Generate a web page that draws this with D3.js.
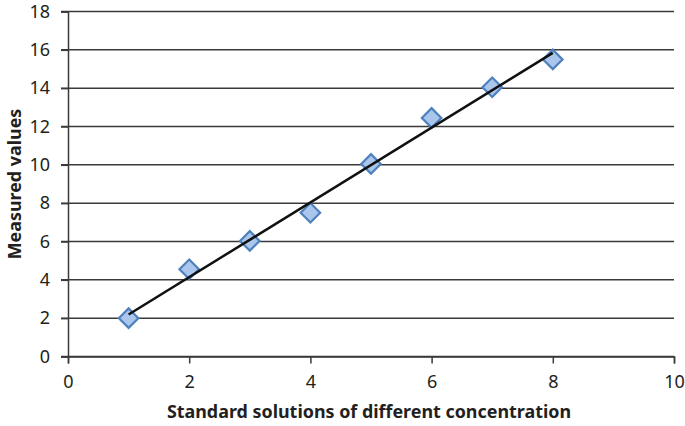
<!DOCTYPE html>
<html>
<head>
<meta charset="utf-8">
<script src="https://cdn.jsdelivr.net/npm/d3@7"></script>
<style>
  html, body { margin: 0; padding: 0; background: #fff; }
  svg { display: block; }
  text { font-family: "Noto Sans", "Open Sans", sans-serif; fill: #231f20; }
</style>
</head>
<body>
<svg id="chart" width="685" height="426"></svg>
<script>
// Data
const concentrations = [1, 2, 3, 4, 5, 6, 7, 8];
const measured = [2.0, 4.55, 6.03, 7.5, 10.05, 12.45, 14.05, 15.5];
const xTicks = [0, 2, 4, 6, 8, 10];
const yTicks = [0, 2, 4, 6, 8, 10, 12, 14, 16, 18];
const xTitle = "Standard solutions of different concentration";
const yTitle = "Measured values";

(function () {
const svg = d3.select("#chart");
const mLeft = 68, mRight = 674, mTop = 11.5, mBottom = 356.5;

const x = d3.scaleLinear().domain([0, 10]).range([mLeft, mRight]);
const y = d3.scaleLinear().domain([0, 18]).range([mBottom, mTop]);

// Gridlines
svg.append("g")
  .selectAll("line")
  .data(yTicks)
  .join("line")
  .attr("x1", mLeft - 7)
  .attr("x2", mRight)
  .attr("y1", d => y(d))
  .attr("y2", d => y(d))
  .attr("stroke", "#3a3a3a")
  .attr("stroke-width", 1.5);

// Y axis
const yAxis = svg.append("g")
  .attr("transform", `translate(${mLeft},0)`)
  .call(d3.axisLeft(y).tickValues(yTicks).tickSize(7).tickPadding(11));
yAxis.select(".domain").attr("stroke", "#3a3a3a").attr("stroke-width", 1.5);
yAxis.selectAll(".tick line").attr("stroke", "#3a3a3a").attr("stroke-width", 1.5);
yAxis.selectAll("text").style("font-size", "18px").attr("fill", "#231f20");

// X axis
const xAxis = svg.append("g")
  .attr("transform", `translate(0,${mBottom})`)
  .call(d3.axisBottom(x).tickValues(xTicks).tickSize(7).tickPadding(12));
xAxis.select(".domain").attr("stroke", "#3a3a3a").attr("stroke-width", 1.5);
xAxis.selectAll(".tick line").attr("stroke", "#3a3a3a").attr("stroke-width", 1.5);
xAxis.selectAll("text").style("font-size", "18px").attr("fill", "#231f20");

// Linear trendline (least squares from the data)
const n = concentrations.length;
const mx = d3.mean(concentrations), my = d3.mean(measured);
let sxy = 0, sxx = 0;
for (let i = 0; i < n; i++) {
  sxy += (concentrations[i] - mx) * (measured[i] - my);
  sxx += (concentrations[i] - mx) ** 2;
}
const slope = sxy / sxx, intercept = my - slope * mx;
const x0 = d3.min(concentrations), x1 = d3.max(concentrations);
const line = d3.line().x(d => x(d[0])).y(d => y(d[1]));

// Markers
const pts = concentrations.map((c, i) => [c, measured[i]]);
svg.append("g")
  .selectAll("path")
  .data(pts)
  .join("path")
  .attr("d", d3.symbol().type(d3.symbolSquare).size(190))
  .attr("transform", d => `translate(${x(d[0])},${y(d[1])}) rotate(45)`)
  .attr("fill", "#aac6ec")
  .attr("stroke", "#4f81bd")
  .attr("stroke-width", 2.2);

svg.append("path")
  .datum([[x0, intercept + slope * x0], [x1, intercept + slope * x1]])
  .attr("d", line)
  .attr("fill", "none")
  .attr("stroke", "#111")
  .attr("stroke-width", 2.5);

// Titles
svg.append("text")
  .attr("x", 369)
  .attr("y", 418)
  .attr("text-anchor", "middle")
  .style("font-size", "17.9px")
  .style("font-weight", "bold")
  .text(xTitle);

svg.append("text")
  .attr("transform", `translate(21,${(mTop + mBottom) / 2}) rotate(-90)`)
  .attr("text-anchor", "middle")
  .style("font-size", "17.9px")
  .style("font-weight", "bold")
  .text(yTitle);
})();
</script>
</body>
</html>
